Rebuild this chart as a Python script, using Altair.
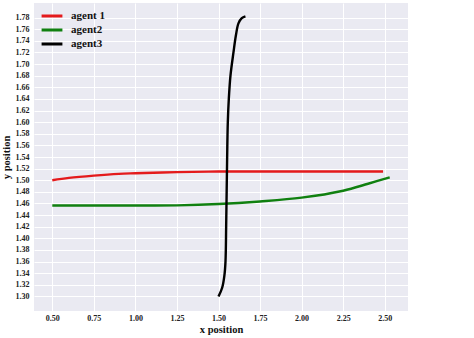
import altair as alt
import pandas as pd

agent1_x = [0.50, 0.60, 0.75, 0.90, 1.00, 1.25, 1.50, 1.75, 2.00, 2.25, 2.49]
agent1_y = [1.500, 1.504, 1.508, 1.511, 1.512, 1.514, 1.515, 1.515, 1.515, 1.515, 1.515]

agent2_x = [0.50, 0.75, 1.00, 1.25, 1.50, 1.75, 2.00, 2.25, 2.40, 2.53]
agent2_y = [1.4566, 1.4566, 1.4566, 1.4568, 1.459, 1.4635, 1.470, 1.482, 1.494, 1.505]

agent3_x = [1.500, 1.522, 1.535, 1.542, 1.546, 1.549, 1.552, 1.556, 1.562, 1.572, 1.590, 1.605, 1.620, 1.640, 1.662]
agent3_y = [1.300, 1.315, 1.335, 1.360, 1.420, 1.480, 1.540, 1.600, 1.640, 1.680, 1.720, 1.750, 1.770, 1.779, 1.782]

series = [("agent 1", agent1_x, agent1_y), ("agent2", agent2_x, agent2_y), ("agent3", agent3_x, agent3_y)]
rows = []
for name, xs, ys in series:
    for i, (xv, yv) in enumerate(zip(xs, ys)):
        rows.append({"agent": name, "x": xv, "y": yv, "order": i})
df = pd.DataFrame(rows)

x_ticks = [0.50, 0.75, 1.00, 1.25, 1.50, 1.75, 2.00, 2.25, 2.50]
y_ticks = [round(1.30 + 0.02 * i, 2) for i in range(25)]

font = "Liberation Serif"

chart = alt.Chart(df).mark_line(strokeWidth=2.4, interpolate="catmull-rom").encode(
    x=alt.X("x:Q", scale=alt.Scale(domain=[0.39, 2.64], nice=False, zero=False),
            axis=alt.Axis(values=x_ticks, format=".2f", title="x position")),
    y=alt.Y("y:Q", scale=alt.Scale(domain=[1.275, 1.805], nice=False, zero=False),
            axis=alt.Axis(values=y_ticks, format=".2f", title="y position")),
    color=alt.Color("agent:N",
                    scale=alt.Scale(domain=["agent 1", "agent2", "agent3"],
                                    range=["#e41a1c", "#108010", "#000000"]),
                    legend=alt.Legend(title=None, orient="none", legendX=6, legendY=5,
                                      symbolType="M-1.7,0H1.7", symbolSize=150, symbolStrokeWidth=3,
                                      labelFont=font, labelFontSize=11, labelFontWeight="bold",
                                      labelColor="#111", rowPadding=0, symbolOffset=4,
                                      labelOffset=11)),
    order="order:Q",
).properties(
    width=374, height=308,
    padding={"left": 34, "top": 3, "right": 66, "bottom": 27},
    autosize=alt.AutoSizeParams(type="none"),
    background="white",
).configure_view(
    fill="#EAEAF2", stroke=None
).configure_axis(
    domain=False, ticks=False, gridColor="white", gridWidth=1,
    labelFont=font, labelFontSize=8, labelFontWeight="bold", labelColor="#222",
    titleFont=font, titleFontSize=10.5, titleFontWeight="bold", titleColor="#111",
).configure_axisX(
    labelPadding=3, titlePadding=2
).configure_axisY(
    labelPadding=5, titlePadding=4
)

chart.save("out.html", embed_options={"renderer": "svg", "actions": False})
